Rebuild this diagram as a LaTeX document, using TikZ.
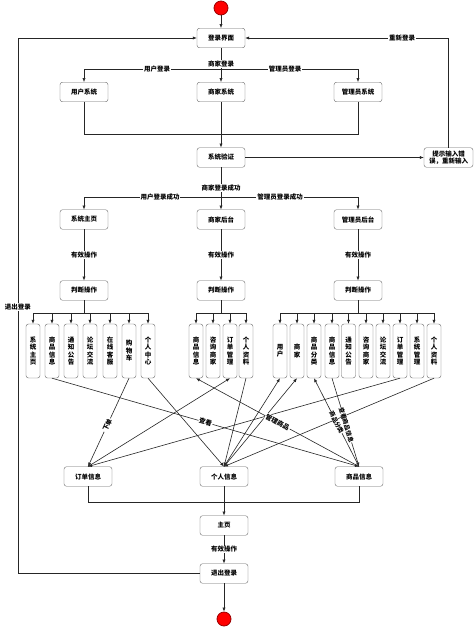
\documentclass[tikz,border=0pt]{standalone}
\usepackage{fontspec}
\setmainfont{Noto Sans CJK SC}
\usetikzlibrary{arrows.meta}
\begin{document}
\begin{tikzpicture}[x=1pt,y=-1pt,
  box/.style={draw=black!60, rounded corners=2.5pt, fill=white, minimum width=48pt, minimum height=19.5pt, inner sep=0pt, font=\fontsize{6.5}{7.5}\selectfont\bfseries, align=center},
  vbox/.style={box, minimum width=14pt, minimum height=54pt},
  ln/.style={draw=black!85, line width=0.6pt},
  arr/.style={ln, -{Latex[length=4pt,width=3.2pt]}},
  lbl/.style={fill=white, inner sep=0.8pt, font=\fontsize{6.5}{7.5}\selectfont\bfseries},
  slbl/.style={lbl, inner sep=0.2pt, font=\fontsize{6}{7}\selectfont\bfseries},
  dot/.style={circle, fill=red, draw=red!60!black, line width=0.8pt, minimum size=14pt, inner sep=0pt}
]
\fill[white] (0,0) rectangle (474,627);
\useasboundingbox (0,0) rectangle (474,627);

% top part
\node[dot] (start) at (221,8) {};
\node[box] (login) at (221,38) {登录界面};
\node[box] (user) at (84,92) {用户系统};
\node[box] (merch) at (221,92) {商家系统};
\node[box] (admin) at (358,92) {管理员系统};
\node[box] (verify) at (221,157.5) {系统验证};
\node[box, minimum width=49pt] (tip) at (448.5,157.5) {提示输入错\\误，重新输入};
\node[box] (home) at (84,219.5) {系统主页};
\node[box] (mback) at (221,219.5) {商家后台};
\node[box] (aback) at (358,219.5) {管理员后台};
\node[box] (judge1) at (84,290.5) {判断操作};
\node[box] (judge2) at (221,290.5) {判断操作};
\node[box] (judge3) at (358,290.5) {判断操作};

% vertical boxes
\node[vbox] (L1) at (33,351) {系\\统\\主\\页};
\node[vbox] (L2) at (52,351) {商\\品\\信\\息};
\node[vbox] (L3) at (71,351) {通\\知\\公\\告};
\node[vbox] (L4) at (90,351) {论\\坛\\交\\流};
\node[vbox] (L5) at (110,351) {在\\线\\客\\服};
\node[vbox] (L6) at (129,351) {购\\物\\车};
\node[vbox] (L7) at (148,351) {个\\人\\中\\心};

\node[vbox] (M1) at (196,351) {商\\品\\信\\息};
\node[vbox] (M2) at (213,351) {咨\\询\\商\\家};
\node[vbox] (M3) at (230,351) {订\\单\\管\\理};
\node[vbox] (M4) at (246,351) {个\\人\\资\\料};

\node[vbox] (R1) at (280,351) {用\\户};
\node[vbox] (R2) at (297,351) {商\\家};
\node[vbox] (R3) at (314,351) {商\\品\\分\\类};
\node[vbox] (R4) at (332,351) {商\\品\\信\\息};
\node[vbox] (R5) at (348.5,351) {通\\知\\公\\告};
\node[vbox] (R6) at (366,351) {咨\\询\\商\\家};
\node[vbox] (R7) at (383,351) {论\\坛\\交\\流};
\node[vbox] (R8) at (400,351) {订\\单\\管\\理};
\node[vbox] (R9) at (417,351) {系\\统\\管\\理};
\node[vbox] (R10) at (434,351) {个\\人\\资\\料};

% bottom part
\node[box] (order) at (88,476.5) {订单信息};
\node[box] (pinfo) at (224,476.5) {个人信息};
\node[box] (ginfo) at (359,476.5) {商品信息};
\node[box] (mainpg) at (224,525.5) {主页};
\node[box] (logout) at (224,573.5) {退出登录};
\node[dot] (end) at (224,619) {};

% coordinates
\coordinate (b1) at (221,69);
\coordinate (m1) at (221,134);
\coordinate (b2) at (221,197);
\coordinate (bus1) at (84,313);
\coordinate (bus2) at (221,313);
\coordinate (bus3) at (358,313);
\coordinate (m2) at (224,502);
\coordinate (lp1) at (18,573.5);
\coordinate (lp2) at (18,38);
\coordinate (rp) at (448.5,38);

% top connectors
\draw[arr] (start) -- (login);
\draw[arr] (login) -- (merch);
\draw[arr] (b1) -| (user.north);
\draw[arr] (b1) -| (admin.north);
\node[lbl] at (157,69) {用户登录};
\node[lbl] at (285,69) {管理员登录};
\node[lbl] at (221,64) {商家登录};

\draw[ln] (user.south) |- (m1);
\draw[ln] (admin.south) |- (m1);
\draw[arr] (merch) -- (verify);
\draw[arr] (verify) -- (tip);
\draw[arr] (tip.north) -- (rp) -- (login.east);
\node[lbl] at (402,38) {重新登录};

\draw[arr] (verify) -- (mback);
\draw[arr] (b2) -| (home.north);
\draw[arr] (b2) -| (aback.north);
\node[lbl] at (221,188) {商家登录成功};
\node[lbl] at (160,197) {用户登录成功};
\node[lbl] at (280,197) {管理员登录成功};

\draw[arr] (home) -- node[lbl]{有效操作} (judge1);
\draw[arr] (mback) -- node[lbl]{有效操作} (judge2);
\draw[arr] (aback) -- node[lbl]{有效操作} (judge3);

% buses
\draw[ln] (judge1) -- (bus1);
\draw[ln] (judge2) -- (bus2);
\draw[ln] (judge3) -- (bus3);
\draw[ln] (L1.north |- bus1) -- (L7.north |- bus1);
\draw[ln] (M1.north |- bus2) -- (M4.north |- bus2);
\draw[ln] (R1.north |- bus3) -- (R10.north |- bus3);
\foreach \n in {L1,L2,L3,L4,L5,L6,L7} \draw[arr] (\n.north |- bus1) -- (\n.north);
\foreach \n in {M1,M2,M3,M4} \draw[arr] (\n.north |- bus2) -- (\n.north);
\foreach \n in {R1,R2,R3,R4,R5,R6,R7,R8,R9,R10} \draw[arr] (\n.north |- bus3) -- (\n.north);

% crossing connectors
\draw[arr] (L6.south) -- (order.north);
\draw[arr] (L7.south) -- (pinfo.north);
\draw[arr] (order.north) -- (M3.south);
\draw[arr] (R8.south) -- (order.north);
\draw[arr] (M4.south) -- (pinfo.north);
\draw[arr] (pinfo.north) -- (R1.south);
\draw[arr] (pinfo.north) -- (R2.south);
\draw[arr] (R10.south) -- (pinfo.north);
\draw[arr] (L2.south) -- (ginfo.north);
\draw[arr] (ginfo.north) -- (M1.south);
\draw[arr] (ginfo.north) -- (R3.south);
\draw[arr] (R4.south) -- (ginfo.north);
\path (L6.south) -- node[lbl, sloped, pos=0.53]{下单} (order.north);
\path (L2.south) -- node[lbl, sloped, pos=0.5]{查看} (ginfo.north);
\path (ginfo.north) -- node[lbl, sloped, pos=0.5]{管理商品} (M1.south);
\path (ginfo.north) -- node[slbl, sloped, pos=0.5]{商品分类} (R3.south);
\path (R4.south) -- node[slbl, sloped, pos=0.53]{查看商品信息} (ginfo.north);

% bottom connectors
\draw[ln] (order.south) |- (m2);
\draw[ln] (ginfo.south) |- (m2);
\draw[arr] (pinfo) -- (mainpg);
\draw[arr] (mainpg) -- node[lbl]{有效操作} (logout);
\draw[arr] (logout) -- (end);
\draw[arr] (logout.west) -- (lp1) -- (lp2) -- (login.west);
\node[lbl] at (18,307) {退出登录};
\end{tikzpicture}
\end{document}
